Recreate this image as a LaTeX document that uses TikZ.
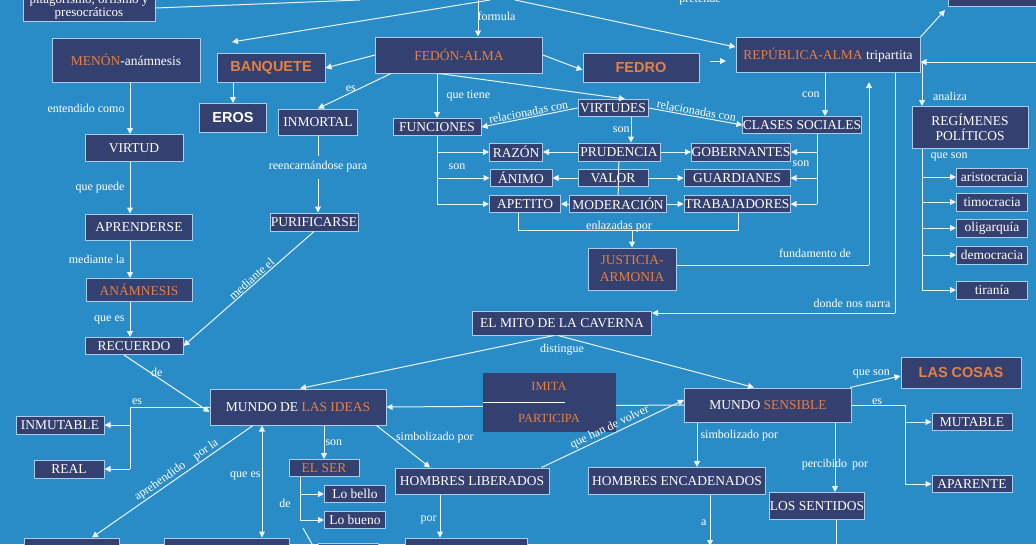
\documentclass[tikz,border=0pt]{standalone}
\usepackage{fontspec}
\setmainfont{Liberation Serif}
\newfontfamily\hv{Liberation Sans}
\usetikzlibrary{arrows.meta}
\definecolor{bg}{RGB}{42,140,198}
\definecolor{bx}{RGB}{52,64,112}
\definecolor{bd}{RGB}{170,205,235}
\definecolor{org}{RGB}{232,128,62}
\tikzset{
 box/.style={draw=bd,line width=1pt,fill=bx,text=white,font=\fontsize{13.5}{15}\selectfont,inner sep=0pt,align=center},
 con/.style={draw=white!90!bg,line width=1pt},
 arr/.style={con,-{Triangle[length=6pt,width=6pt]}},
 lab/.style={text=white,font=\fontsize{12}{13}\selectfont,inner sep=1pt},
}
\newcommand{\og}[1]{\textcolor{org}{#1}}
\newcommand{\sfb}{\hv\bfseries\fontsize{14.5}{16}\selectfont}
\begin{document}
\begin{tikzpicture}[x=1pt,y=-1pt]
\useasboundingbox (0,0) rectangle (1036,544);
\clip (0,0) rectangle (1036,544);
\fill[bg] (0,0) rectangle (1036,544);
\def\B#1#2#3#4#5#6{\node[box,minimum width=#4,minimum height=#5] (#1) at (#2,#3) {#6};}
\coordinate (t1) at (360,0); \coordinate (t2) at (490,0); \coordinate (t3) at (478,0); \coordinate (t4) at (515,0); \coordinate (t5) at (232,42);
\B{pit}{89}{4}{132}{34}{}
\node[text=white,font=\fontsize{13}{13}\selectfont,align=center] (pittx) at (89,7) {pitagorismo, orfismo y\\presocráticos};
\B{tr}{992}{-2}{88}{16}{}
\draw[con] (pit.east |- 0,8) -- (t1);
\draw[arr] (t2) -- (t5);
\B{menon}{126}{60}{148}{44}{\og{MENÓN}-anámnesis}
\B{banq}{271}{68}{108}{29}{\sfb\og{BANQUETE}}
\B{eros}{233}{118}{67}{29}{\sfb EROS}
\B{inm}{318}{122}{79}{26}{INMORTAL}
\B{pur}{314}{222}{88}{18}{PURIFICARSE}
\B{fedon}{459}{55}{167}{36}{\og{FEDÓN-ALMA}}
\B{fedro}{641}{68}{116}{29}{\sfb\og{FEDRO}}
\B{rep}{828}{55}{184}{35}{\og{REPÚBLICA-ALMA} tripartita}
\B{virt}{613}{108}{70}{17}{VIRTUDES}
\B{fun}{437}{127}{88}{17}{FUNCIONES}
\B{cla}{802}{125}{118}{17}{CLASES SOCIALES}
\B{raz}{516}{152}{53}{18}{RAZÓN}
\B{pru}{619}{152}{82}{18}{PRUDENCIA}
\B{gob}{741}{152}{97}{18}{GOBERNANTES}
\B{ani}{521}{178}{62}{17}{ÁNIMO}
\B{val}{613}{178}{70}{17}{VALOR}
\B{gua}{737}{178}{106}{17}{GUARDIANES}
\B{ape}{525}{204}{71}{17}{APETITO}
\B{mod}{618}{204}{97}{17}{MODERACIÓN}
\B{tra}{737}{204}{106}{17}{TRABAJADORES}
\B{jus}{632}{269}{88}{42}{\og{JUSTICIA-}\\[2pt]\og{ARMONIA}}
\B{reg}{970}{127}{116}{42}{REGÍMENES\\POLÍTICOS}
\B{ari}{992}{177}{71}{18}{aristocracia}
\B{tim}{992}{202}{71}{18}{timocracia}
\B{oli}{992}{228}{71}{18}{oligarquía}
\B{dem}{992}{255}{71}{18}{democracia}
\B{tir}{992}{290}{71}{18}{tiranía}
\B{mito}{562}{323}{179}{24}{EL MITO DE LA CAVERNA}
\B{vir}{134}{148}{98}{27}{VIRTUD}
\B{apr}{139}{227}{107}{26}{APRENDERSE}
\B{ana}{139}{290}{106}{23}{\og{ANÁMNESIS}}
\B{rec}{134}{346}{98}{17}{RECUERDO}
\B{mi}{298}{407}{176}{36}{MUNDO DE \og{LAS IDEAS}}
\node[box,draw=none,minimum width=132,minimum height=58] (im) at (549,402) {};
\B{ms}{768}{405}{167}{34}{MUNDO \og{SENSIBLE}}
\B{cos}{961}{373}{120}{31}{\sfb\og{LAS COSAS}}
\B{inmu}{60}{425}{88}{18}{INMUTABLE}
\B{real}{69}{469}{70}{18}{REAL}
\B{ser}{324}{468}{70}{17}{\og{EL SER}}
\B{bel}{355}{494}{61}{17}{Lo bello}
\B{bue}{355}{520}{61}{17}{Lo bueno}
\B{lib}{472}{481}{154}{26}{HOMBRES LIBERADOS}
\B{enc}{677}{481}{177}{27}{HOMBRES ENCADENADOS}
\B{sen}{817}{506}{86}{27}{LOS SENTIDOS}
\B{mut}{972}{422}{80}{17}{MUTABLE}
\B{apa}{972}{484}{80}{17}{APARENTE}
\B{b1}{72}{546}{95}{16}{}
\B{b2}{227}{546}{125}{16}{}
\node[draw=bd,fill=bx!60!bg,minimum width=60,minimum height=12] (b3) at (348,549) {};
\B{b4}{466}{546}{122}{16}{}
% top
\draw[arr] (t3) -- node[lab,right=-2pt,pos=0.45]{formula} (fedon.north -| t3);
\draw[arr] (t4) -- ([yshift=-10pt]rep.north west);
\node[lab] at (700,0) {pretende};
\draw[arr] (rep.north east) -- (945,10);
\draw[arr] (1036,62) -- (rep.east |- 0,62);
% fedon
\draw[arr] (fedon.west) -- (banq.east);
\draw[arr] (banq.south -| eros) -- (eros.north);
\draw[arr] ([xshift=16pt]fedon.south west) -- node[lab,above,pos=0.55]{es} (inm.north);
\draw[arr] (fedon.east) -- ([yshift=-2pt]fedro.west);
\draw[arr] (710,61) -- (726,61);
\draw[arr] (fedon.south -| fun) -- node[lab,right=8pt,pos=0.5]{que tiene} (fun.north);
\draw[arr] ([xshift=-20pt]fedon.south) -- ([xshift=12pt]virt.north);
\draw[arr] (virt.west) -- node[lab,above,sloped]{relacionadas con} (fun.east);
\draw[arr] (virt.east) -- node[lab,above,sloped]{relacionadas con} (cla.west);
\draw[arr] (rep.south -| 825,0) -- node[lab,left=4pt,pos=0.5]{con} (cla.north -| 825,0);
\draw[arr] (922,62) -- (922,106);
\node[lab] at (950,96) {analiza};
\draw[arr] (virt.south -| 631,0) -- node[lab,left]{son} (pru.north -| 631,0);
\draw[con] (pru) -- (mod);
\foreach \a/\b in {pru/raz,pru/gob,val/ani,val/gua,mod/ape,mod/tra}\draw[arr] (\a) -- (\b);
\draw[con] (fun.south) -- (437,204);
\foreach \n in {raz,ani,ape}\draw[arr] (437,0 |- \n.west) -- (\n.west);
\node[lab] at (457,167) {son};
\draw[con] (cla.south -| 817,0) -- (817,204);
\foreach \n in {gob,gua,tra}\draw[arr] (817,0 |- \n.east) -- (\n.east);
\node[lab] at (801,164) {son};
\draw[con] (ape.south -| 518,0) -- (518,230) -- (738,230) -- (tra.south -| 738,0);
\draw[arr] (632,230) -- (jus.north);
\node[lab] at (619,227) {enlazadas por};
\draw[con] (jus.east |- 0,265) -- (869,265);
\draw[arr] (869,265) -- (869,82);
\node[lab] at (815,253) {fundamento de};
\draw[con] (reg.south -| 922,0) -- (922,290);
\foreach \n in {ari,tim,oli,dem,tir}\draw[arr] (922,0 |- \n.west) -- (\n.west);
\node[lab] at (949,157) {que son};
\draw[con] (rep.south -| 895,0) -- (895,313);
\draw[arr] (895,313) -- (mito.east |- 0,313);
\node[lab] at (852,303) {donde nos narra};
% left
\draw[arr] (menon.south -| 130,0) -- node[lab,left=4pt]{entendido como} (vir.north -| 130,0);
\draw[arr] (vir.south -| 130,0) -- node[lab,left=4pt]{que puede} (apr.north -| 130,0);
\draw[arr] (apr.south -| 130,0) -- node[lab,left=4pt]{mediante la} (ana.north -| 130,0);
\draw[arr] (ana.south -| 130,0) -- node[lab,left=4pt]{que es} (rec.north -| 130,0);
\draw[con] (inm.south) -- (318,156);
\node[lab] at (318,167) {reencarnándose para};
\draw[arr] (318,179) -- (pur.north -| 318,0);
\draw[arr] (pur.south) -- node[lab,above,sloped,pos=0.45]{mediante el} (rec.east);
\draw[arr] ([xshift=-10pt]rec.south) -- node[lab,right,pos=0.3]{de} ([yshift=-5pt]mi.west);
% mito
\draw[arr] ([xshift=-8pt]mito.south) -- ([xshift=2pt]mi.north);
\draw[arr] ([xshift=-4pt]mito.south) -- ([xshift=-14pt]ms.north);
\node[lab] at (562,350) {distingue};
\draw[arr] (ms.west) -- (mi.east);
\fill[bx] (im.north west) rectangle (im.south east);
\draw[white,line width=1pt] (483,402) -- (565,402);
\node[font=\fontsize{12.5}{14}\selectfont,text=org] at (549,386) {IMITA};
\node[font=\fontsize{12.5}{14}\selectfont,text=org] at (549,418) {PARTICIPA};
% mundo ideas
\draw[con] (mi.west) -- (130,407) -- (130,469);
\draw[arr] (130,425) -- (inmu.east); \draw[arr] (130,469) -- (real.east);
\node[lab] at (137,402) {es};
\draw[arr] (mi.south -| ser) -- node[lab,right]{son} (ser.north);
\draw[con] (ser.south -| 300,0) -- (300,520);
\draw[arr] (300,494) -- (bel.west); \draw[arr] (300,520) -- (bue.west);
\node[lab] at (285,503) {de};
\draw[con] (303,528) -- (312,544);
\draw[arr] ([xshift=-10pt]mi.south east) -- node[lab,right=2pt,pos=0.3]{simbolizado por} ([xshift=-42pt]lib.north);
\draw[arr] ([xshift=-8pt]lib.north east) -- node[lab,above,sloped]{que han de volver} ([yshift=5pt]ms.west);
\draw[arr] (lib.south -| 440,0) -- node[lab,left=2pt,pos=0.6]{por} (b4.north -| 440,0);
\draw[arr] ([xshift=-45pt]mi.south) -- node[lab,above,sloped,pos=0.45]{aprehendido\quad por la} ([xshift=20pt]b1.north);
\draw[arr,{Triangle[length=6pt,width=6pt]}-{Triangle[length=6pt,width=6pt]}] (mi.south -| 262,0) -- node[lab,left,pos=0.45]{que es} (b2.north -| 262,0);
% mundo sensible
\draw[arr] (ms.south -| 697,0) -- node[lab,right=2pt,pos=0.3]{simbolizado por} (enc.north -| 697,0);
\draw[arr] (ms.south -| 835,0) -- node[lab,pos=0.6]{percibido\, por} (sen.north -| 835,0);
\draw[arr] ([xshift=-2pt]ms.north east) -- node[lab,above left=-1pt,pos=0.8]{que son} ([yshift=-3pt]cos.west);
\draw[con] (ms.east) -- (905,405) -- (905,484);
\draw[arr] (905,422) -- (mut.west); \draw[arr] (905,484) -- (apa.west);
\node[lab] at (877,402) {es};
\draw[arr] (enc.south -| 710,0) -- node[lab,left=2pt,pos=0.55]{a} (710,546);
\draw[con] (sen.south -| 836,0) -- (836,546);
\end{tikzpicture}
\end{document}
